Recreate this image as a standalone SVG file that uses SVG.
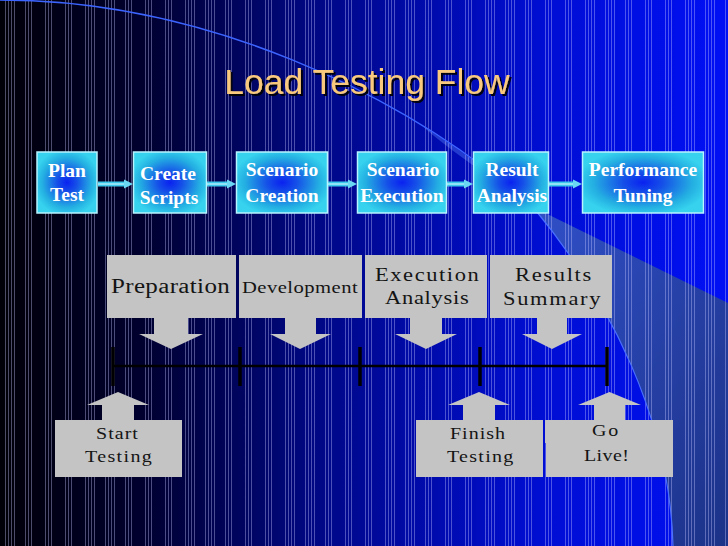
<svg xmlns="http://www.w3.org/2000/svg" width="728" height="546" viewBox="0 0 728 546">
  <style>
    .flowbox { fill: url(#boxGrad); stroke: #b8f4ff; stroke-width: 1.5; }
    .flowtxt { font-family: "Liberation Serif", "Times New Roman", serif; font-weight: bold; font-size: 19.5px; fill: #ffffff; text-anchor: middle; }
    .callout { fill: #c4c4c4; }
    .ctxt { font-family: "Liberation Serif", "Times New Roman", serif; fill: #141414; }
    .title { font-family: "Liberation Sans", Arial, sans-serif; font-size: 35.5px; text-anchor: middle; fill: #f9c97e; }
    .conn { stroke: #3cc8ea; stroke-width: 5; fill: none; }
    .connin { stroke: #c8f6ff; stroke-width: 1.2; fill: none; }
    .head { fill: #6ad8f2; }
    .tick { stroke: #000000; stroke-width: 3.5; }
  </style>
  <defs>
    <linearGradient id="bgGrad" x1="0" y1="0" x2="1" y2="0">
      <stop offset="0" stop-color="#000008"/>
      <stop offset="0.2" stop-color="#000030"/>
      <stop offset="0.45" stop-color="#00088a"/>
      <stop offset="0.75" stop-color="#000ed4"/>
      <stop offset="1" stop-color="#0010f4"/>
    </linearGradient>
    <linearGradient id="bandGrad" x1="0" y1="0" x2="1" y2="1">
      <stop offset="0" stop-color="#3050c8"/>
      <stop offset="1" stop-color="#1c3288"/>
    </linearGradient>
    <radialGradient id="boxGrad" cx="0.5" cy="0.5" r="0.55">
      <stop offset="0" stop-color="#0a22f0"/>
      <stop offset="0.3" stop-color="#1550e8"/>
      <stop offset="0.75" stop-color="#24b0e2"/>
      <stop offset="1" stop-color="#36d2ee"/>
    </radialGradient>
    <filter id="shadow" x="-5%" y="-20%" width="110%" height="140%">
      <feDropShadow dx="2" dy="2" stdDeviation="0.6" flood-color="#000000" flood-opacity="0.9"/>
    </filter>
    <pattern id="stripes" x="0" y="0" width="100" height="546" patternUnits="userSpaceOnUse">
      <g stroke="#c8c8ff" stroke-width="1" opacity="0.38">
        <line x1="5.5" y1="0" x2="5.5" y2="546"/>
        <line x1="8.5" y1="0" x2="8.5" y2="546"/>
        <line x1="11.5" y1="0" x2="11.5" y2="546"/>
        <line x1="14.5" y1="0" x2="14.5" y2="546"/>
        <line x1="25.5" y1="0" x2="25.5" y2="546"/>
        <line x1="28.5" y1="0" x2="28.5" y2="546"/>
        <line x1="31.5" y1="0" x2="31.5" y2="546"/>
        <line x1="45.5" y1="0" x2="45.5" y2="546"/>
        <line x1="48.5" y1="0" x2="48.5" y2="546"/>
        <line x1="51.5" y1="0" x2="51.5" y2="546"/>
        <line x1="65.5" y1="0" x2="65.5" y2="546"/>
        <line x1="68.5" y1="0" x2="68.5" y2="546"/>
        <line x1="71.5" y1="0" x2="71.5" y2="546"/>
        <line x1="85.5" y1="0" x2="85.5" y2="546"/>
        <line x1="88.5" y1="0" x2="88.5" y2="546"/>
        <line x1="91.5" y1="0" x2="91.5" y2="546"/>
        <line x1="94.5" y1="0" x2="94.5" y2="546"/>
      </g>
    </pattern>
  </defs>

  <!-- background -->
  <g id="background">
    <rect x="0" y="0" width="728" height="546" fill="url(#bgGrad)"/>
    <path d="M533,207 L728,303 L728,546 L673,546 C670,420 610,300 533,207 Z" fill="url(#bandGrad)"/>
    <path d="M420,124 C460,150 500,178 533,207 C495,180 455,155 420,124 Z" fill="#3a5ae0" opacity="0.6"/>
    <rect x="0" y="0" width="728" height="546" fill="url(#stripes)"/>
    <path d="M0,0 C200,0 400,90 533,207" fill="none" stroke="#3c64ff" stroke-width="1.5"/>
    <path d="M533,207 C610,300 670,420 673,546" fill="none" stroke="#4a70ff" stroke-width="1.2"/>
  </g>

  <!-- title -->
  <g id="title">
    <text class="title" x="367" y="94" filter="url(#shadow)">Load Testing Flow</text>
  </g>

  <!-- flow connectors -->
  <g id="connectors">
    <line class="conn" x1="98" y1="184" x2="126" y2="184"/>
    <line class="connin" x1="98" y1="184" x2="126" y2="184"/>
    <polygon class="head" points="124,179.5 133,184 124,188.5"/>
    <line class="conn" x1="207" y1="184" x2="229" y2="184"/>
    <line class="connin" x1="207" y1="184" x2="229" y2="184"/>
    <polygon class="head" points="227,179.5 236,184 227,188.5"/>
    <line class="conn" x1="328" y1="184" x2="350" y2="184"/>
    <line class="connin" x1="328" y1="184" x2="350" y2="184"/>
    <polygon class="head" points="348,179.5 357,184 348,188.5"/>
    <line class="conn" x1="447" y1="184" x2="466" y2="184"/>
    <line class="connin" x1="447" y1="184" x2="466" y2="184"/>
    <polygon class="head" points="464,179.5 473,184 464,188.5"/>
    <line class="conn" x1="549" y1="184" x2="575" y2="184"/>
    <line class="connin" x1="549" y1="184" x2="575" y2="184"/>
    <polygon class="head" points="573,179.5 582,184 573,188.5"/>
  </g>

  <!-- flow nodes -->
  <g id="plan-test">
    <rect class="flowbox" x="37" y="152" width="60" height="61"/>
    <text class="flowtxt" x="67" y="177">Plan</text>
    <text class="flowtxt" x="67" y="201">Test</text>
  </g>
  <g id="create-scripts">
    <rect class="flowbox" x="133.5" y="152" width="73" height="61"/>
    <text class="flowtxt" x="168" y="180">Create</text>
    <text class="flowtxt" x="169" y="204">Scripts</text>
  </g>
  <g id="scenario-creation">
    <rect class="flowbox" x="236.5" y="152" width="91" height="61"/>
    <text class="flowtxt" x="282" y="176">Scenario</text>
    <text class="flowtxt" x="282" y="202">Creation</text>
  </g>
  <g id="scenario-execution">
    <rect class="flowbox" x="357.5" y="152" width="89" height="61"/>
    <text class="flowtxt" x="403" y="176">Scenario</text>
    <text class="flowtxt" x="402" y="202">Execution</text>
  </g>
  <g id="result-analysis">
    <rect class="flowbox" x="473.5" y="152" width="75" height="61"/>
    <text class="flowtxt" x="512" y="176">Result</text>
    <text class="flowtxt" x="512" y="202">Analysis</text>
  </g>
  <g id="performance-tuning">
    <rect class="flowbox" x="582.5" y="152" width="121" height="61"/>
    <text class="flowtxt" x="643" y="176">Performance</text>
    <text class="flowtxt" x="643" y="202">Tuning</text>
  </g>

  <!-- phase callouts (down arrows) -->
  <g id="preparation">
    <path class="callout" d="M107,255 H236 V318 H188 V334 H203 L171,349 L139,334 H154 V318 H107 Z"/>
    <text class="ctxt" transform="translate(111,293) scale(1.25,1)" font-size="20" textLength="95" lengthAdjust="spacing">Preparation</text>
  </g>
  <g id="development">
    <path class="callout" d="M239,255 H362 V318 H316 V334 H331 L300,349 L270,334 H285 V318 H239 Z"/>
    <text class="ctxt" transform="translate(242,293) scale(1.25,1)" font-size="16.5" textLength="92.5" lengthAdjust="spacing">Development</text>
  </g>
  <g id="execution-analysis">
    <path class="callout" d="M365,255 H487 V318 H442 V334 H457 L426,349 L395,334 H410 V318 H365 Z"/>
    <text class="ctxt" transform="translate(375,281) scale(1.25,1)" font-size="18" textLength="83" lengthAdjust="spacing">Execution</text>
    <text class="ctxt" transform="translate(385,304) scale(1.25,1)" font-size="18" textLength="67" lengthAdjust="spacing">Analysis</text>
  </g>
  <g id="results-summary">
    <path class="callout" d="M490,255 H612 V318 H567 V334 H582 L552,349 L522,334 H537 V318 H490 Z"/>
    <text class="ctxt" transform="translate(515,281) scale(1.25,1)" font-size="18" textLength="61" lengthAdjust="spacing">Results</text>
    <text class="ctxt" transform="translate(503,305) scale(1.25,1)" font-size="18" textLength="78" lengthAdjust="spacing">Summary</text>
  </g>

  <!-- timeline -->
  <g id="timeline">
    <line x1="113" y1="366" x2="607" y2="366" stroke="#000000" stroke-width="2.5"/>
    <line class="tick" x1="113" y1="347" x2="113" y2="386"/>
    <line class="tick" x1="240" y1="347" x2="240" y2="386"/>
    <line class="tick" x1="360" y1="347" x2="360" y2="386"/>
    <line class="tick" x1="480" y1="347" x2="480" y2="386"/>
    <line class="tick" x1="607" y1="347" x2="607" y2="386"/>
  </g>

  <!-- milestone callouts (up arrows) -->
  <g id="start-testing">
    <path class="callout" d="M55,420 H102 V405 H87 L118,392 L149,405 H134 V420 H182 V477 H55 Z"/>
    <text class="ctxt" transform="translate(96,439) scale(1.25,1)" font-size="16" textLength="33.5" lengthAdjust="spacing">Start</text>
    <text class="ctxt" transform="translate(85,462) scale(1.25,1)" font-size="16" textLength="53.5" lengthAdjust="spacing">Testing</text>
  </g>
  <g id="finish-testing">
    <path class="callout" d="M416,420 H463 V405 H448 L479,392 L510,405 H495 V420 H543 V477 H416 Z"/>
    <text class="ctxt" transform="translate(450,439) scale(1.25,1)" font-size="16" textLength="44" lengthAdjust="spacing">Finish</text>
    <text class="ctxt" transform="translate(447,462) scale(1.25,1)" font-size="16" textLength="53" lengthAdjust="spacing">Testing</text>
  </g>
  <g id="go-live">
    <path class="callout" d="M545,420 H594 V405 H578 L609.5,392 L641,405 H625 V420 H673 V477 H546 V443 H545 Z"/>
    <text class="ctxt" transform="translate(592,436) scale(1.25,1)" font-size="16" textLength="21" lengthAdjust="spacing">Go</text>
    <text class="ctxt" transform="translate(584,461) scale(1.25,1)" font-size="16" textLength="36" lengthAdjust="spacing">Live!</text>
  </g>
</svg>
